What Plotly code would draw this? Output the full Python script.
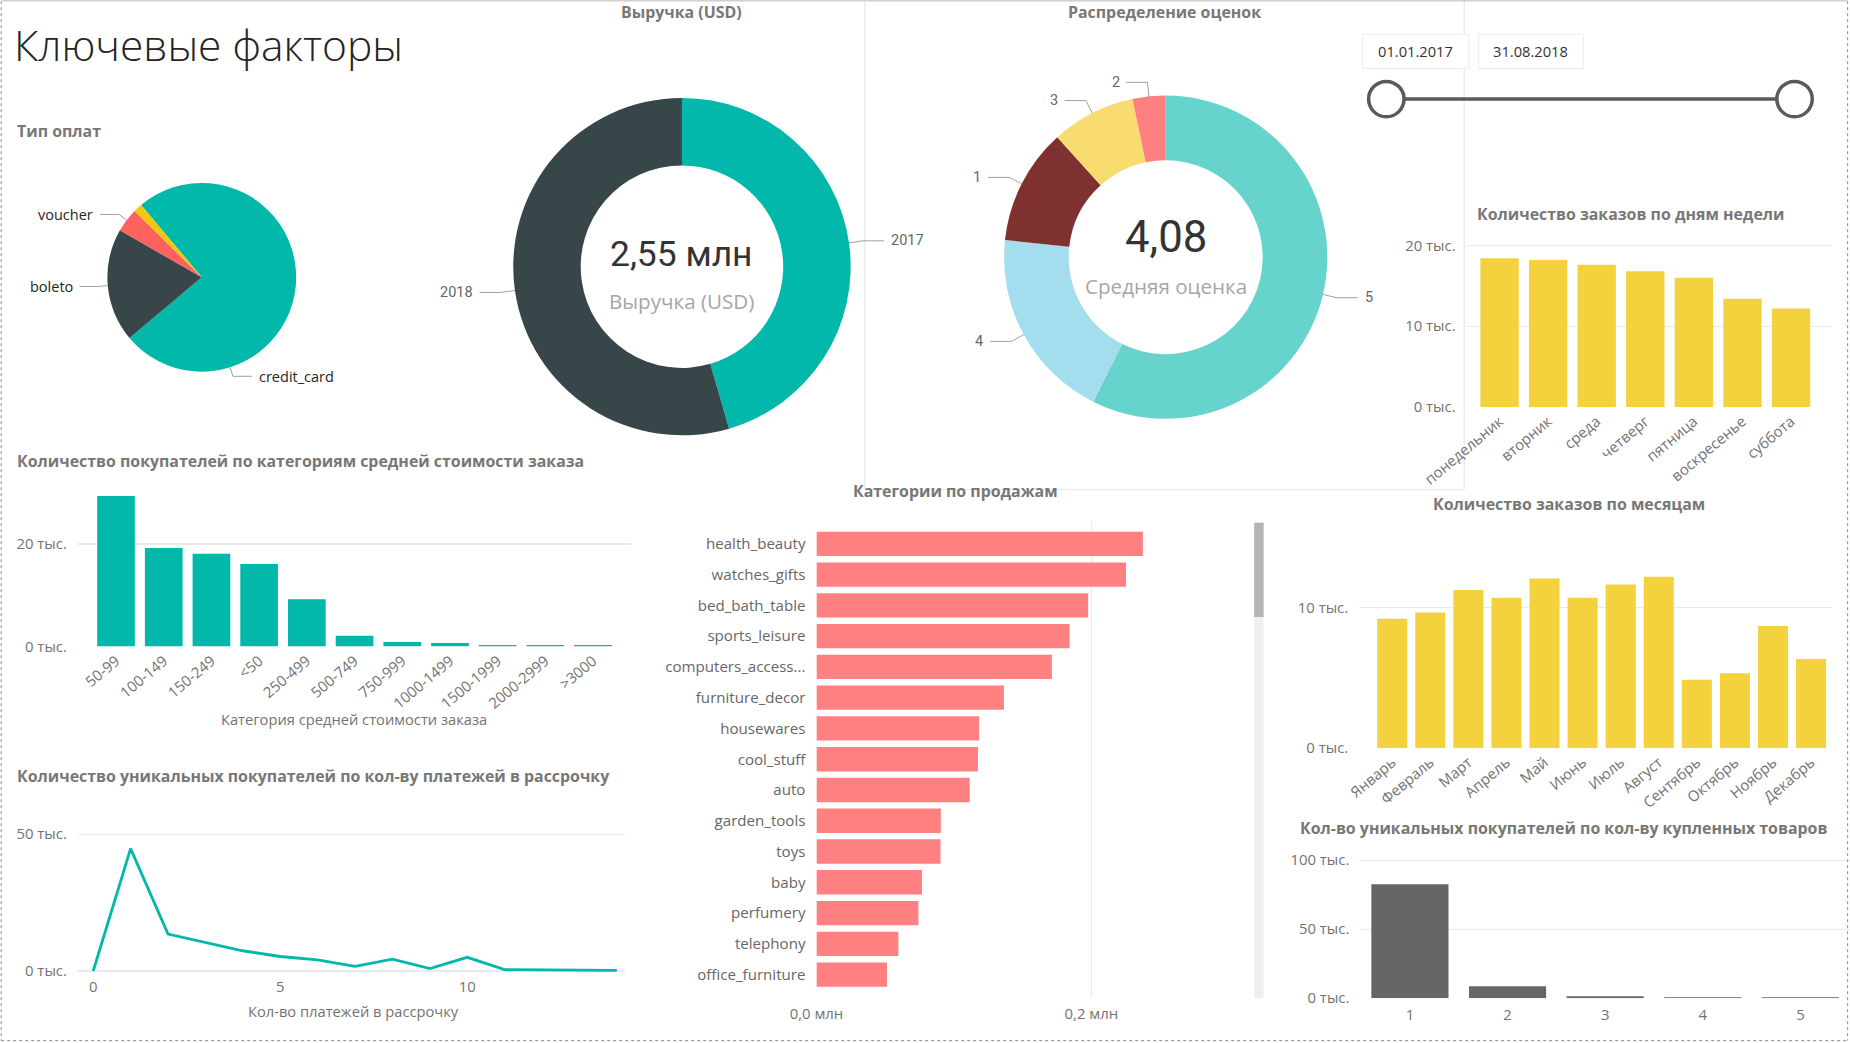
import math
import plotly.graph_objects as go

# ---------------- data ----------------
pay_types = ["credit_card", "boleto", "voucher", "debit_card"]
pay_share = [75.0, 19.4, 4.1, 1.5]

rev_years = ["2017", "2018"]
rev_musd = [1.16, 1.39]
rev_total_label = "2,55 млн"

rating_labels = ["5", "4", "1", "3", "2"]
rating_share = [57.4, 19.3, 11.6, 8.4, 3.3]
rating_avg_label = "4,08"

weekdays = ["понедельник", "вторник", "среда", "четверг", "пятница", "воскресенье", "суббота"]
weekday_orders = [18400, 18200, 17600, 16800, 16000, 13400, 12200]

months = ["Январь", "Февраль", "Март", "Апрель", "Май", "Июнь", "Июль",
          "Август", "Сентябрь", "Октябрь", "Ноябрь", "Декабрь"]
month_orders = [9200, 9650, 11250, 10700, 12080, 10700, 11650, 12200, 4860, 5330, 8700, 6340]

avg_cats = ["50-99", "100-149", "150-249", "<50", "250-499", "500-749", "750-999",
            "1000-1499", "1500-1999", "2000-2999", ">3000"]
avg_buyers = [29350, 19200, 18100, 16100, 9200, 2100, 900, 700, 300, 300, 300]

installments = [0, 1, 2, 3, 4, 5, 6, 7, 8, 9, 10, 11, 12, 13, 14]
inst_buyers = [0, 44700, 13500, 10500, 7400, 5300, 4100, 1700, 4300, 900, 5000, 500, 400, 300, 200]

sales_cats = ["health_beauty", "watches_gifts", "bed_bath_table", "sports_leisure",
              "computers_access...", "furniture_decor", "housewares", "cool_stuff", "auto",
              "garden_tools", "toys", "baby", "perfumery", "telephony", "office_furniture"]
sales_musd = [0.2375, 0.2252, 0.1977, 0.1842, 0.1713, 0.1364, 0.1183, 0.1175, 0.1115,
              0.0905, 0.0903, 0.0768, 0.0742, 0.0596, 0.0513]

items_counts = ["1", "2", "3", "4", "5"]
items_buyers = [82600, 8700, 1450, 700, 700]

date_from = "01.01.2017"
date_to = "31.08.2018"

# ---------------- geometry helpers ----------------
W, H = 1850, 1043
K = W / 1568.0          # design units -> pixels


def vx(v):
    return v / 1568.0


def vy(v):
    return 1 - v / (H / K)


def fs(v):
    return round(v * K, 1)


FONT = "Segoe UI, Open Sans, sans-serif"
NUMF = "Roboto, DejaVu Sans, sans-serif"
GRAY = "#777777"
TICK = "#737373"
GRID = "#E9E9E9"

TEAL = "#01B8AA"
DARK = "#374649"
RED = "#FD625E"
YEL = "#F2C80F"
BARY = "#F4D23E"
SALMON = "#FF8080"

fig = go.Figure()
shapes = []
ann = []


def text(x, y, s, size, color=GRAY, bold=False, xanchor="left", family=FONT, weight=None):
    f = dict(size=fs(size), color=color, family=family)
    if weight is not None:
        f["weight"] = weight
    if bold:
        f["weight"] = "bold"
    ann.append(dict(x=vx(x), y=vy(y), xref="paper", yref="paper", text=s, showarrow=False,
                    xanchor=xanchor, yanchor="middle", font=f))


def line(x0, y0, x1, y1, color, width, dash=None):
    d = dict(type="line", xref="paper", yref="paper", x0=vx(x0), y0=vy(y0), x1=vx(x1), y1=vy(y1),
             line=dict(color=color, width=width))
    if dash:
        d["line"]["dash"] = dash
    shapes.append(d)


def pie_domain(cx, cy, r):
    return dict(x=[vx(cx - r), vx(cx + r)], y=[vy(cy + r), vy(cy - r)])


def spans(values, start):
    tot = float(sum(values))
    out, a = [], start
    for v in values:
        s = v / tot * 360.0
        out.append((a, a + s))
        a += s
    return out


def leader(cx, cy, r, ang, label, color, size, l1=12, l2=18, family=NUMF):
    t = math.radians(ang)
    p = (cx + r * math.sin(t), cy - r * math.cos(t))
    e = (cx + (r + l1) * math.sin(t), cy - (r + l1) * math.cos(t))
    side = 1 if math.sin(t) >= 0 else -1
    h = (e[0] + side * l2, e[1])
    line(p[0], p[1], e[0], e[1], "#A0A0A0", 1)
    line(e[0], e[1], h[0], h[1], "#A0A0A0", 1)
    text(h[0] + side * 4, h[1], label, size, color=color,
         xanchor="left" if side > 0 else "right", family=family)


# ---------------- header ----------------
text(10, 38, "Ключевые факторы", 36, color="#252423", family=FONT, weight=300)

# ---------------- payment type pie ----------------
text(13, 111, "Тип оплат", 13.5, bold=True)
P_CX, P_CY, P_R, P_ROT = 171, 235, 80, -40
fig.add_trace(go.Pie(labels=pay_types, values=pay_share, sort=False, direction="clockwise",
                     rotation=P_ROT, textinfo="none", hoverinfo="label+percent",
                     marker=dict(colors=[TEAL, DARK, RED, YEL]),
                     domain=pie_domain(P_CX, P_CY, P_R), showlegend=False))
pay_anchor = [0.75, 0.5, 0.5, None]
for lab, (a0, a1), fr in zip(pay_types, spans(pay_share, P_ROT), pay_anchor):
    if fr is None:
        continue
    leader(P_CX, P_CY, P_R, a0 + (a1 - a0) * fr, lab, "#252423", 12.3, l1=8, l2=16, family=FONT)

# ---------------- revenue donut ----------------
text(578, 10, "Выручка (USD)", 13.5, bold=True, xanchor="center")
R_CX, R_CY, R_R = 578, 226, 143
fig.add_trace(go.Pie(labels=rev_years, values=rev_musd, sort=False, direction="clockwise",
                     rotation=0, hole=0.6, textinfo="none",
                     marker=dict(colors=[TEAL, DARK]),
                     domain=pie_domain(R_CX, R_CY, R_R), showlegend=False))
for lab, (a0, a1) in zip(rev_years, spans(rev_musd, 0)):
    leader(R_CX, R_CY, R_R, (a0 + a1) / 2, lab, "#666666", 12.3)
text(R_CX, 215, rev_total_label, 30, color="#333333", xanchor="center", family=NUMF)
text(R_CX, 255, "Выручка (USD)", 17.5, color="#A6A6A6", xanchor="center")

# ---------------- rating donut ----------------
shapes.append(dict(type="rect", xref="paper", yref="paper", x0=vx(733), x1=vx(1241),
                   y0=vy(415), y1=vy(0.5), line=dict(color="#E3E3E3", width=1),
                   fillcolor="rgba(0,0,0,0)", layer="below"))
text(987, 10, "Распределение оценок", 13.5, bold=True, xanchor="center")
S_CX, S_CY, S_R = 988, 218, 137
fig.add_trace(go.Pie(labels=rating_labels, values=rating_share, sort=False, direction="clockwise",
                     rotation=0, hole=0.6, textinfo="none",
                     marker=dict(colors=["#66D4CC", "#A4DDEE", "#7F312F", "#F8DC6F", "#FF8080"]),
                     domain=pie_domain(S_CX, S_CY, S_R), showlegend=False))
for lab, (a0, a1) in zip(rating_labels, spans(rating_share, 0)):
    leader(S_CX, S_CY, S_R, (a0 + a1) / 2, lab, "#666666", 12.3)
text(S_CX, 201, rating_avg_label, 37, color="#333333", xanchor="center", family=NUMF)
text(S_CX, 242, "Средняя оценка", 17.5, color="#A6A6A6", xanchor="center")

# ---------------- date slicer ----------------
for x0, x1, s in [(1155, 1245, date_from), (1253, 1342, date_to)]:
    shapes.append(dict(type="rect", xref="paper", yref="paper", x0=vx(x0), x1=vx(x1),
                       y0=vy(58), y1=vy(29), line=dict(color="#EBEBEB", width=1), fillcolor="white"))
    text((x0 + x1) / 2, 43.5, s, 12.5, color="#333333", xanchor="center")
line(1175, 84, 1521, 84, "#5A5A5A", 3.5)
for cx in (1175, 1521):
    shapes.append(dict(type="circle", xref="paper", yref="paper", x0=vx(cx - 15), x1=vx(cx + 15),
                       y0=vy(99), y1=vy(69), fillcolor="white", line=dict(color="#5A5A5A", width=3.5)))

# ---------------- axes helper ----------------
layout_axes = {}
TF = 12.6


def axes(n, xdom, ydom, xrange, yrange, ytickvals, yticktext, xtype="category",
         xtickangle=0, xtickvals=None, xticktext=None, yshow=True, xgrid=False, ygrid=True,
         ycat=False):
    xa = "xaxis" if n == 1 else f"xaxis{n}"
    ya = "yaxis" if n == 1 else f"yaxis{n}"
    layout_axes[xa] = dict(domain=[vx(xdom[0]), vx(xdom[1])], range=xrange, type=xtype,
                           anchor=f"y{'' if n == 1 else n}", showline=False, zeroline=False,
                           showgrid=xgrid, gridcolor=GRID, gridwidth=1.2, ticks="",
                           tickangle=xtickangle, tickfont=dict(size=fs(TF), color=TICK, family=FONT),
                           fixedrange=True, ticklabelstandoff=2, automargin=False)
    if xtickvals is not None:
        layout_axes[xa]["tickvals"] = xtickvals
        layout_axes[xa]["ticktext"] = xticktext
    layout_axes[ya] = dict(domain=[vy(ydom[0]), vy(ydom[1])], range=yrange,
                           anchor=f"x{'' if n == 1 else n}", showline=False, zeroline=False,
                           showgrid=ygrid, gridcolor=GRID, gridwidth=1.2, ticks="",
                           tickfont=dict(size=fs(TF), color=TICK, family=FONT), fixedrange=True,
                           showticklabels=yshow, ticklabelstandoff=10, automargin=False)
    if ycat:
        layout_axes[ya]["type"] = "category"
        layout_axes[ya]["tickfont"] = dict(size=fs(12.8), color="#666666", family=FONT)
    if ytickvals is not None:
        layout_axes[ya]["tickvals"] = ytickvals
        layout_axes[ya]["ticktext"] = yticktext


# ---------------- avg order category bars (1) ----------------
text(13, 391, "Количество покупателей по категориям средней стоимости заказа", 13.5, bold=True)
fig.add_trace(go.Bar(x=avg_cats, y=avg_buyers, marker=dict(color=TEAL), xaxis="x", yaxis="y",
                     showlegend=False))
axes(1, (66, 535), (548, 415), [-0.8, 10.8], [0, 20000 * (548 - 415) / 87.0],
     [0, 20000], ["0 тыс.", "20 тыс."], xtickangle=-40)
text(300, 609, "Категория средней стоимости заказа", 12.5, color=TICK, xanchor="center")

# ---------------- installments line (2) ----------------
text(13, 658, "Количество уникальных покупателей по кол-ву платежей в рассрочку", 13.5, bold=True)
fig.add_trace(go.Scatter(x=installments, y=inst_buyers, mode="lines",
                         line=dict(color=TEAL, width=fs(2.4)), xaxis="x2", yaxis="y2",
                         showlegend=False))
u = 50000 / 116.0
axes(2, (66, 530), (826, 695), [(66 - 79) / 31.7, (530 - 79) / 31.7], [-3 * u, (823 - 695) * u],
     [0, 50000], ["0 тыс.", "50 тыс."], xtype="linear", xtickvals=[0, 5, 10],
     xticktext=["0", "5", "10"])
text(300, 857, "Кол-во платежей в рассрочку", 12.5, color=TICK, xanchor="center")

# ---------------- months (3) ----------------
text(1330, 427, "Количество заказов по месяцам", 13.5, bold=True, xanchor="center")
fig.add_trace(go.Bar(x=months, y=month_orders, marker=dict(color=BARY), xaxis="x3", yaxis="y3",
                     showlegend=False))
axes(3, (1152, 1553), (634, 478), [-(1180 - 1152) / 32.27, 11 + (1553 - 1535) / 32.27],
     [0, 10000 * (634 - 478) / 119.0], [0, 10000], ["0 тыс.", "10 тыс."], xtickangle=-40)

# ---------------- weekdays (4) ----------------
text(1382, 181, "Количество заказов по дням недели", 13.5, bold=True, xanchor="center")
fig.add_trace(go.Bar(x=weekdays, y=weekday_orders, marker=dict(color=BARY), xaxis="x4", yaxis="y4",
                     showlegend=False))
axes(4, (1243, 1553), (345, 198), [-(1271 - 1243) / 41.2, 6 + (1553 - 1518) / 41.2],
     [0, 20000 * (345 - 198) / 137.0], [0, 10000, 20000], ["0 тыс.", "10 тыс.", "20 тыс."],
     xtickangle=-40)

# ---------------- items bought (5) ----------------
text(1100, 702, "Кол-во уникальных покупателей по кол-ву купленных товаров", 13.5, bold=True)
fig.add_trace(go.Bar(x=items_counts, y=items_buyers, marker=dict(color="#666666"), xaxis="x5",
                     yaxis="y5", showlegend=False))
axes(5, (1153, 1568), (846, 720), [-(1195 - 1153) / 82.75, 4 + (1568 - 1526) / 82.75],
     [0, 100000 * (846 - 720) / 117.0], [0, 50000, 100000], ["0 тыс.", "50 тыс.", "100 тыс."])
layout_axes["xaxis5"]["ticklabelstandoff"] = 6

# ---------------- sales categories (6) ----------------
text(810, 416, "Категории по продажам", 13.5, bold=True, xanchor="center")
fig.add_trace(go.Bar(y=sales_cats, x=sales_musd, orientation="h", marker=dict(color=SALMON),
                     xaxis="x6", yaxis="y6", showlegend=False))
axes(6, (692, 1055), (845, 442), [0, 0.2 * (1055 - 692) / 233.0],
     [14 + (845 - 826) / 26.07, -(461 - 442) / 26.07], None, None, xtype="linear",
     xtickvals=[0, 0.2], xticktext=["0,0 млн", "0,2 млн"], xgrid=True, ygrid=False, ycat=True)
layout_axes["yaxis6"]["ticklabelstandoff"] = 10
layout_axes["xaxis6"]["ticklabelstandoff"] = 6
# scrollbar
shapes.append(dict(type="rect", xref="paper", yref="paper", x0=vx(1063), x1=vx(1071),
                   y0=vy(846), y1=vy(443), fillcolor="#EFEFEF", line=dict(width=0)))
shapes.append(dict(type="rect", xref="paper", yref="paper", x0=vx(1063), x1=vx(1071),
                   y0=vy(523), y1=vy(443), fillcolor="#B4B4B4", line=dict(width=0)))

# ---------------- page border ----------------
line(1, 1, 1, 882, "#8C8C8C", 1, dash="dot")
line(1566, 1, 1566, 882, "#8C8C8C", 1, dash="dot")
line(1, 882, 1566, 882, "#8C8C8C", 1, dash="dot")
line(1, 0.6, 1566, 0.6, "#D0D0D0", 1.5)

fig.update_layout(
    width=W, height=H, margin=dict(l=0, r=0, t=0, b=0, autoexpand=False),
    paper_bgcolor="white", plot_bgcolor="white",
    font=dict(family=FONT, color=GRAY),
    bargap=0.21, showlegend=False,
    shapes=shapes, annotations=ann,
    **layout_axes,
)
fig.update_traces(selector=dict(type="bar"), marker_line_width=0)

fig.write_html("out.html", config={"displayModeBar": False, "staticPlot": True},
               post_script="document.body.style.margin='0';document.body.style.overflow='hidden';")
